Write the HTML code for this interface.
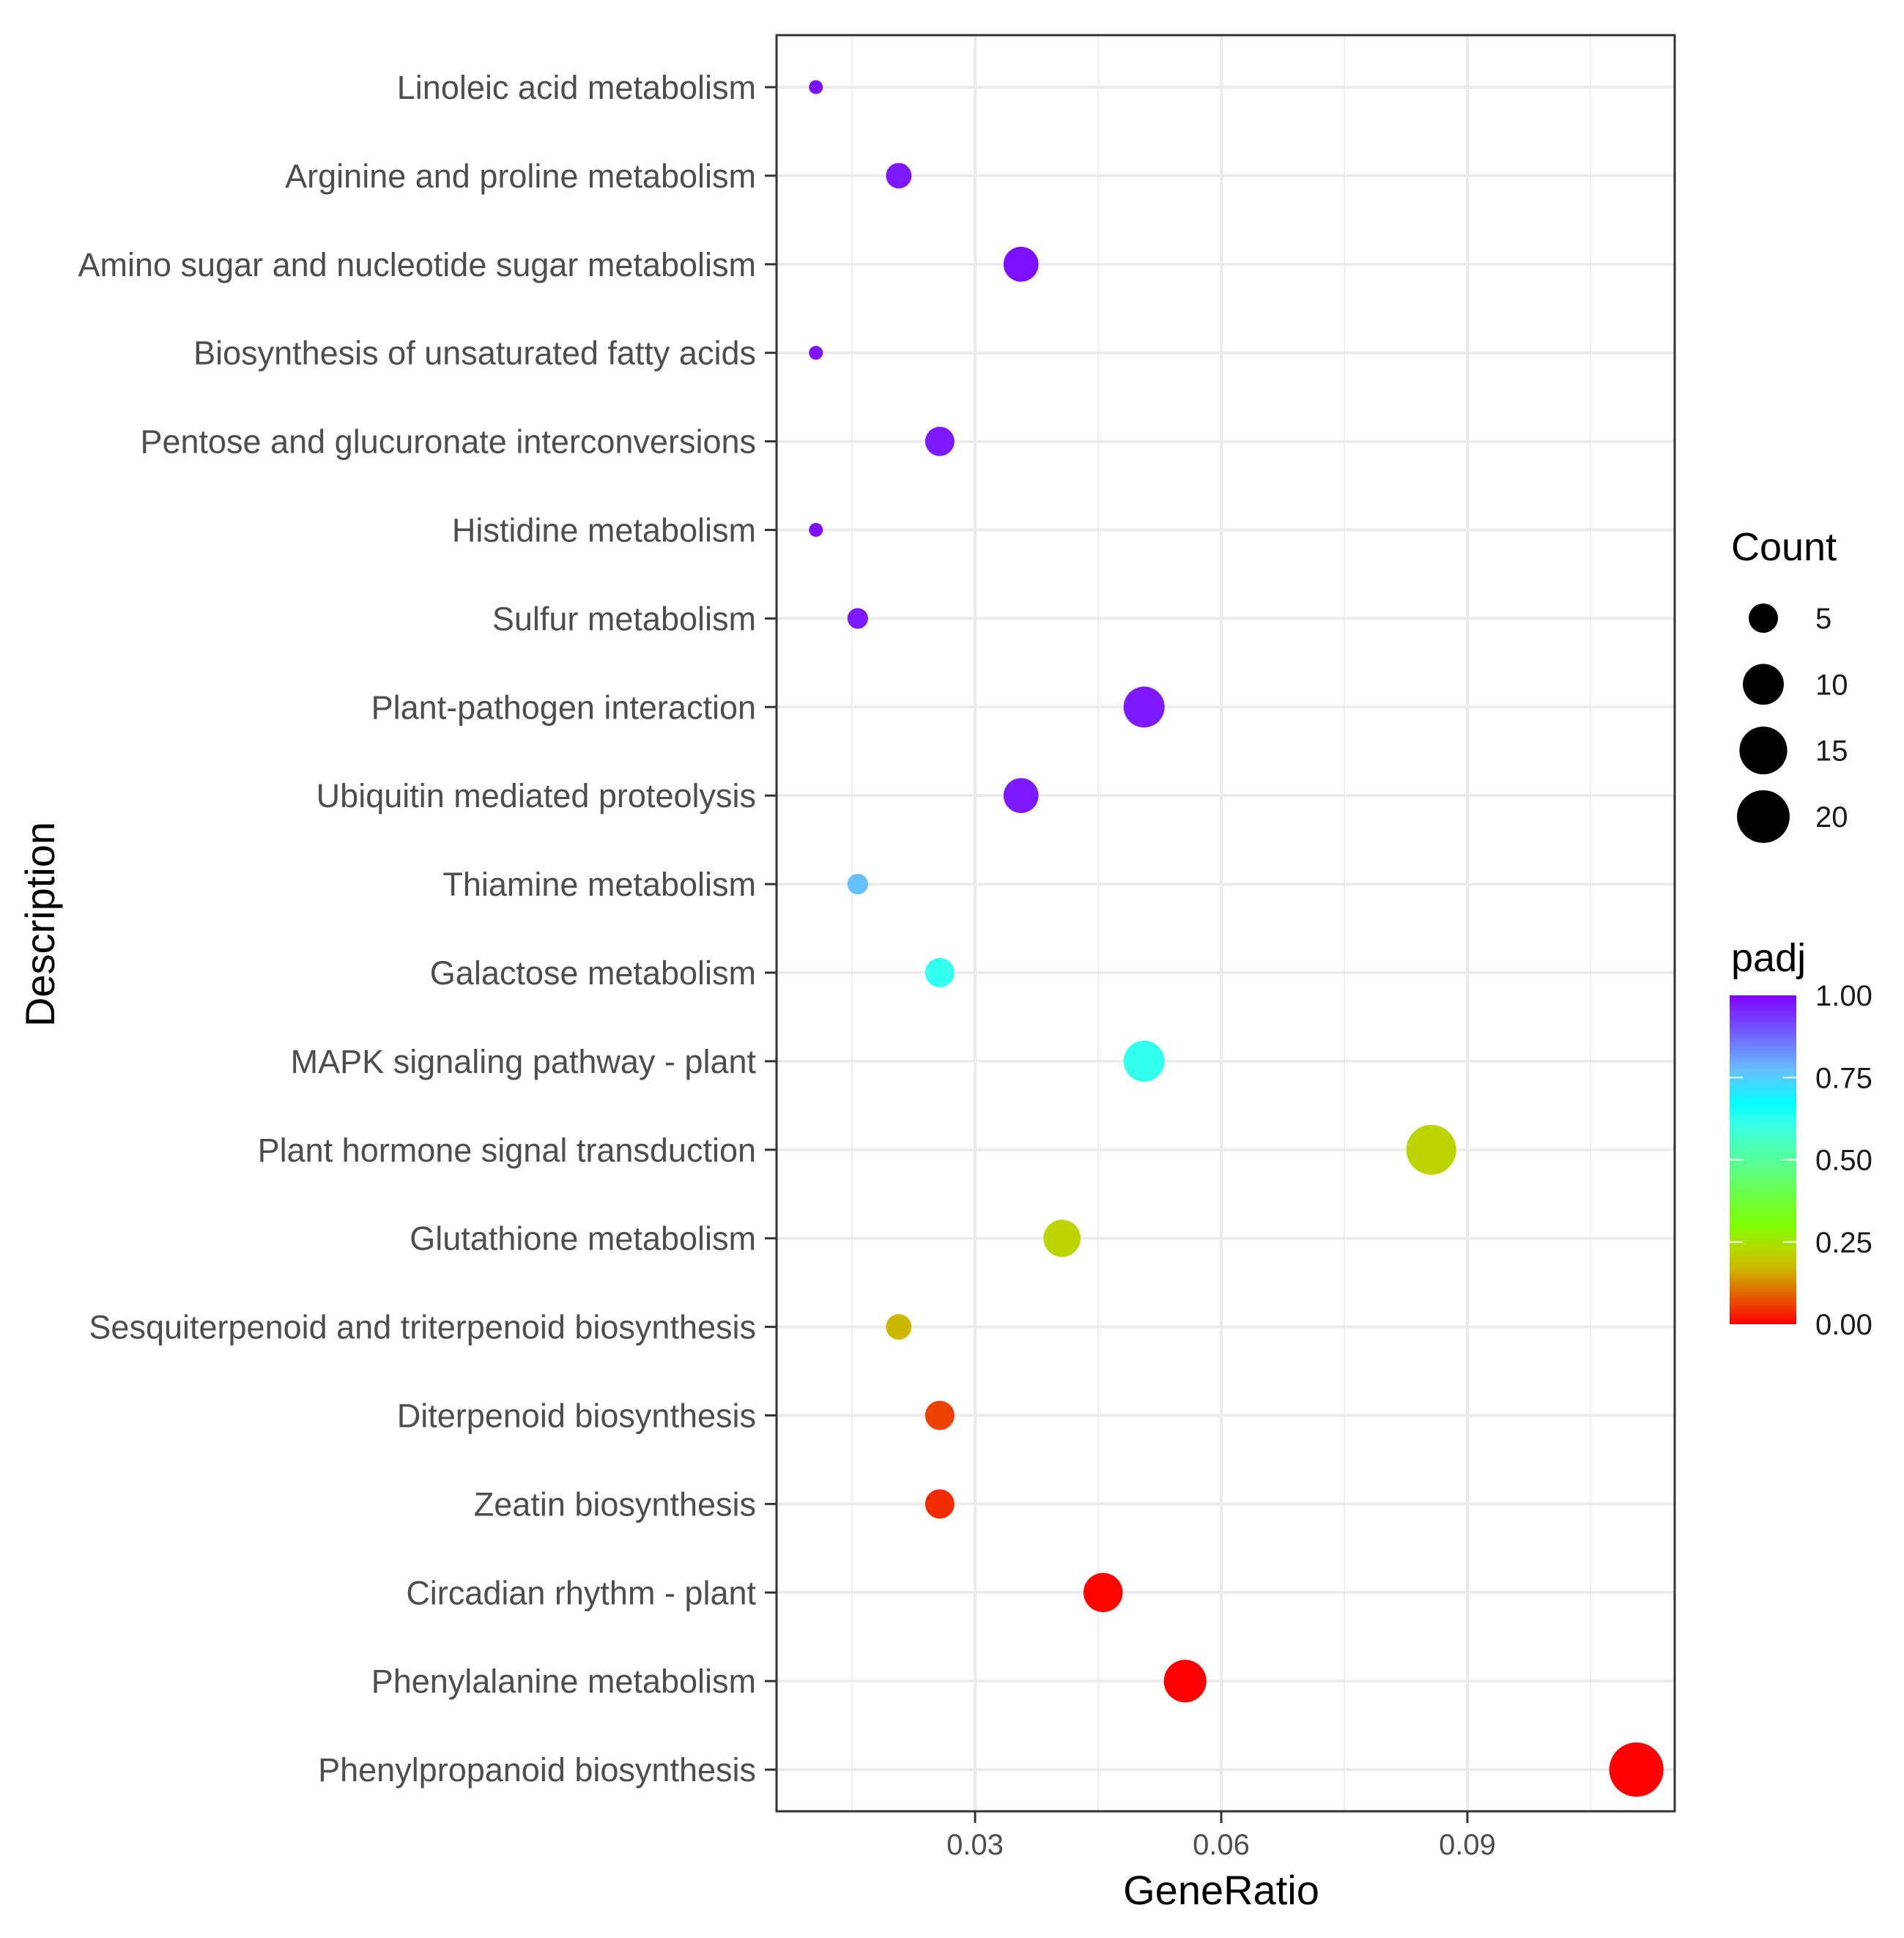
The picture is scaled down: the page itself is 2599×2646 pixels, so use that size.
<!DOCTYPE html>
<html><head><meta charset="utf-8"><style>
html,body{margin:0;padding:0;background:#fff;}
svg{display:block;font-family:"Liberation Sans",Arial,sans-serif;}
</style></head><body>
<svg id="chart" width="2599" height="2646" viewBox="0 0 2599 2646" xmlns="http://www.w3.org/2000/svg">
<rect width="2599" height="2646" fill="#fff"/>
<g id="grid"></g>
<g id="points"></g>
<rect x="1060" y="48" width="1226" height="2425" fill="none" stroke="#333" stroke-width="3"/>
<g id="yaxis"></g>
<g id="xaxis"></g>
<text x="1667" y="2600" font-size="56" text-anchor="middle" fill="#000">GeneRatio</text>
<text transform="translate(74,1262) rotate(-90)" font-size="56" text-anchor="middle" fill="#000">Description</text>
<g id="legend">
<text x="2363" y="765" font-size="54" fill="#000">Count</text>
<g id="sizeLegend"></g>
<text x="2363" y="1326" font-size="54" fill="#000">padj</text>
<defs><linearGradient id="cg" x1="0" y1="1" x2="0" y2="0"></linearGradient></defs>
<rect x="2361" y="1359" width="91" height="449" fill="url(#cg)"/>
<g id="cbar"></g>
</g>
</svg>
<script>
const categories = ["Linoleic acid metabolism","Arginine and proline metabolism","Amino sugar and nucleotide sugar metabolism","Biosynthesis of unsaturated fatty acids","Pentose and glucuronate interconversions","Histidine metabolism","Sulfur metabolism","Plant-pathogen interaction","Ubiquitin mediated proteolysis","Thiamine metabolism","Galactose metabolism","MAPK signaling pathway - plant","Plant hormone signal transduction","Glutathione metabolism","Sesquiterpenoid and triterpenoid biosynthesis","Diterpenoid biosynthesis","Zeatin biosynthesis","Circadian rhythm - plant","Phenylalanine metabolism","Phenylpropanoid biosynthesis"];
const geneRatio = [0.0106,0.0207,0.0356,0.0106,0.0257,0.0106,0.0157,0.0506,0.0356,0.0157,0.0257,0.0506,0.0856,0.0406,0.0207,0.0257,0.0257,0.0456,0.0556,0.1106];
const counts = [2,4,7,2,5,2,3,10,7,3,5,10,17,8,4,5,5,9,11,22];
const padj = [0.98,0.97,0.98,0.98,0.97,0.98,0.97,0.97,0.97,0.77,0.62,0.62,0.22,0.22,0.17,0.06,0.04,0.005,0,0];
const xTicks = [0.03,0.06,0.09];
const xTickLabels = ["0.03","0.06","0.09"];
const xMinor = [0.015,0.045,0.075,0.105];
const sizeBreaks = [5,10,15,20];
const padjTicks = [0,0.25,0.5,0.75,1];
const padjTickLabels = ["0.00","0.25","0.50","0.75","1.00"];

const NS="http://www.w3.org/2000/svg";
const X0=1060,X1=2286,Y0=48,Y1=2473;
const xScale=v=>995+v*11200;
const yScale=i=>119+i*120.9;
const sizeScale=c=>3+23*Math.log(c);
const stops=[[0,[255,0,0]],[0.17,[204,184,0]],[0.22,[188,212,0]],[0.3,[128,255,0]],[0.5,[85,255,153]],[0.62,[51,255,238]],[0.67,[0,255,255]],[0.77,[102,192,255]],[1,[127,0,255]]];
function color(v){for(let i=1;i<stops.length;i++){if(v<=stops[i][0]){const a=stops[i-1],b=stops[i],t=(v-a[0])/(b[0]-a[0]);return "rgb("+a[1].map((c,k)=>Math.round(c+(b[1][k]-c)*t)).join(",")+")";}}return "rgb(127,0,255)";}
function mk(tag,attrs,parent){const e=document.createElementNS(NS,tag);for(const k in attrs)e.setAttribute(k,attrs[k]);parent.appendChild(e);return e;}

const grid=document.getElementById('grid');
mk('rect',{x:X0,y:Y0,width:X1-X0,height:Y1-Y0,fill:'#fff'},grid);
xMinor.forEach(v=>{const l=mk('line',{x1:xScale(v),x2:xScale(v),y1:Y0,y2:Y1,stroke:'#f0f0f0','stroke-width':2},grid);

});
xTicks.forEach(v=>{const l=mk('line',{x1:xScale(v),x2:xScale(v),y1:Y0,y2:Y1,stroke:'#ebebeb','stroke-width':4},grid);

});
categories.forEach((c,i)=>{const l=mk('line',{x1:X0,x2:X1,y1:yScale(i),y2:yScale(i),stroke:'#ebebeb','stroke-width':4},grid);

});

const pts=document.getElementById('points');
categories.forEach((c,i)=>{const e=mk('circle',{cx:xScale(geneRatio[i]),cy:yScale(i),r:sizeScale(counts[i])/2,fill:color(padj[i])},pts);

});

const ya=document.getElementById('yaxis');
categories.forEach((c,i)=>{const y=yScale(i);
const t=mk('line',{x1:1044,x2:1060,y1:y,y2:y,stroke:'#333','stroke-width':3},ya);


const tx=mk('text',{x:1032,y:y+16,'font-size':45,'text-anchor':'end',fill:'#4d4d4d'},ya);
tx.textContent=c;

});

const xa=document.getElementById('xaxis');
xTicks.forEach((v,i)=>{const x=xScale(v);
const t=mk('line',{x1:x,x2:x,y1:Y1,y2:Y1+16,stroke:'#333','stroke-width':3},xa);


const tx=mk('text',{x:x,y:2532,'font-size':40,'text-anchor':'middle',fill:'#4d4d4d'},xa);
tx.textContent=xTickLabels[i];

});

const sl=document.getElementById('sizeLegend');
sizeBreaks.forEach((b,i)=>{const y=844+i*90.3;
const c=mk('circle',{cx:2407,cy:y,r:sizeScale(b)/2,fill:'#000'},sl);


const t=mk('text',{x:2478,y:y+14,'font-size':40,fill:'#1a1a1a'},sl);
t.textContent=b;

});

const g=document.getElementById('cg');
for(let i=0;i<=40;i++){const v=i/40;mk('stop',{offset:v,'stop-color':color(v)},g);}
const cb=document.getElementById('cbar');
padjTicks.forEach((v,i)=>{const y=1808-v*449;
if(v>0&&v<1){const a=mk('line',{x1:2361,x2:2379,y1:y,y2:y,stroke:'#fff','stroke-width':2},cb);


const b=mk('line',{x1:2434,x2:2452,y1:y,y2:y,stroke:'#fff','stroke-width':2},cb);

}
const t=mk('text',{x:2478,y:y+14,'font-size':40,fill:'#1a1a1a'},cb);
t.textContent=padjTickLabels[i];

});
</script>
</body></html>
